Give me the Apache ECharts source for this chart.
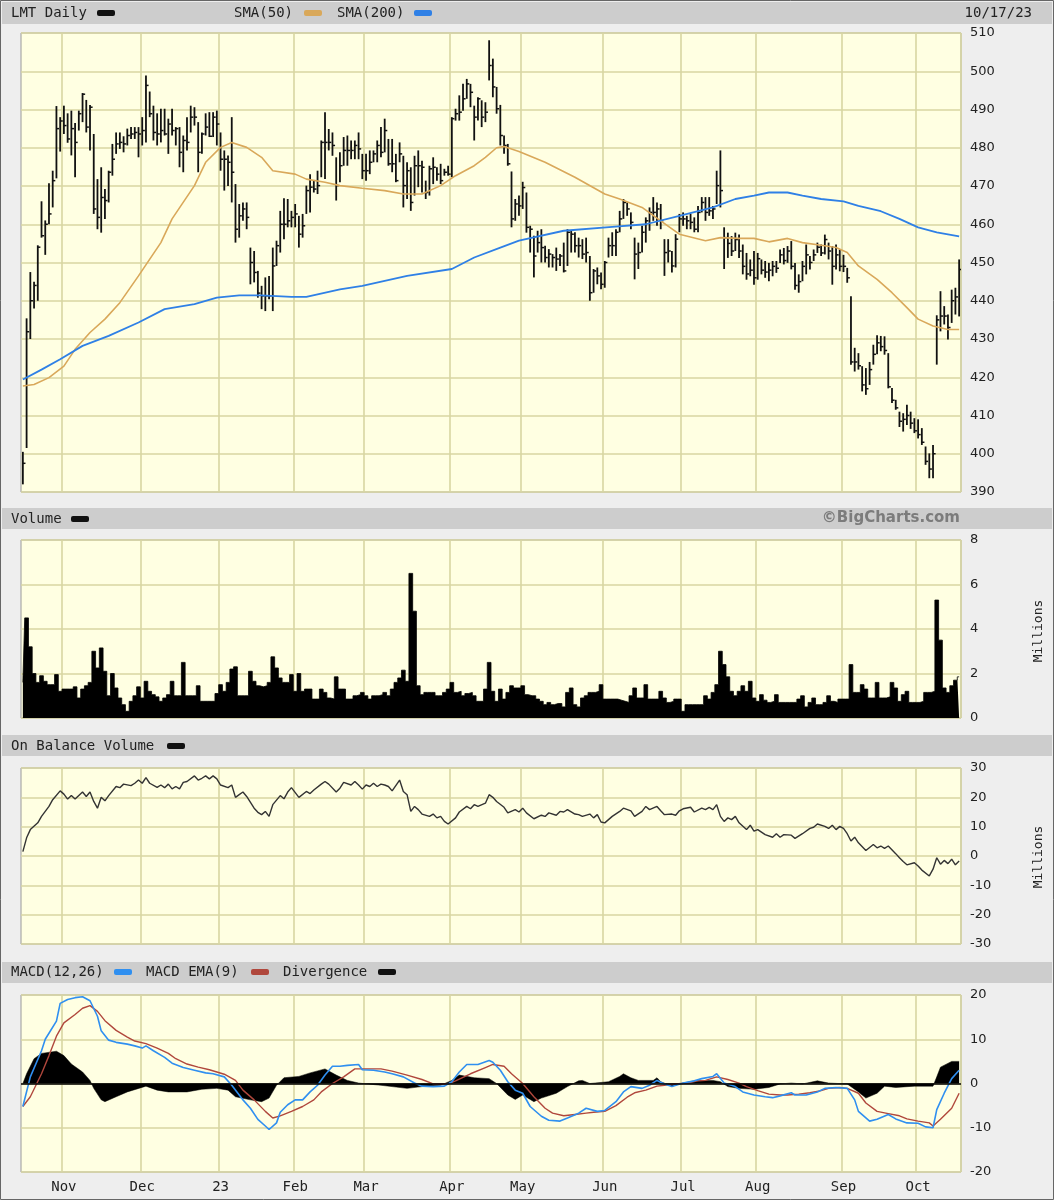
<!DOCTYPE html>
<html><head><meta charset="utf-8">
<script src="https://cdn.jsdelivr.net/npm/echarts/dist/echarts.min.js"></script>
<style>html,body{margin:0;padding:0;background:#eeeeee;}#c{width:1054px;height:1200px;}</style>
</head><body><div id="c"></div>
<script>
// ---------- calendar ----------
const startDate = '2022-10-17';
const endDate = '2023-10-17';
const holidays = ['2022-11-24','2022-12-26','2023-01-02','2023-01-16','2023-02-20','2023-04-07','2023-05-29','2023-06-19','2023-07-04','2023-09-04'];
const monthLabels = {'01':'23','02':'Feb','03':'Mar','04':'Apr','05':'May','06':'Jun','07':'Jul','08':'Aug','09':'Sep','10':'Oct','11':'Nov','12':'Dec'};
const priceTicks = [390, 510, 10];
const volumeTicks = [0, 8, 2];
const obvTicks = [-30, 30, 10];
const macdTicks = [-20, 20, 10];

// ---------- daily price bars ----------
const highs = [
400.5,435.4,447.5,445,454.5,466,461,470.7,474,490.9,
488,491,489,489.7,486.5,489.7,494.3,492.5,491.2,483.6,
471.8,474.9,469.2,474,481,484,484,483,485,485.4,
485.4,485.4,488,498.9,494.7,491,489,490.2,490.2,487.6,
490.2,485.4,485.4,483.2,488,491,490.6,486.7,484,489,
489.3,489.3,489.7,484,479.3,478,488,470.5,465.3,465.7,
465.7,453.9,453,447.8,443.9,446.1,446.5,453.9,455.7,463.5,
466.8,466.6,463.5,465.3,462.2,462.7,470.1,473.1,471.4,474,
481.9,489.3,484.9,484,477.5,478.8,482.8,483.2,481.9,481.9,
484,478.4,478.4,479.3,479.3,481.9,485.4,487.6,482.3,482.3,
478.4,481.4,477.9,476.2,474.9,477.9,479.3,476.6,471.4,475.3,
477.5,474.9,475.8,474.5,475.3,488,490.2,493.7,496.7,498,
496.7,491,493.2,492.4,491.9,508.1,503.3,495.9,491.2,483.2,
481,473.8,466.6,467.5,471.1,468.3,459.6,457,458.3,458.7,
454.4,453.5,452.2,453.9,452.2,455.2,458.7,458.3,457.9,456.5,
456.1,456.5,451.7,448.3,448.7,447.4,450.4,456.5,457.9,458.7,
463.5,466.6,465.7,463.1,456.5,455.2,459.6,461.8,464.4,467.1,
465.7,465.3,456.1,456.1,453,457.4,462.7,463.1,462.2,462.7,
461.8,464.8,467.1,467.1,467.1,464.8,474,479.3,459.2,457.8,
456.9,457.8,457.3,454.7,452.5,450.8,453,452.5,450.8,450.4,
449.9,450.4,450.4,453.4,453.8,454.3,455.6,449.9,446.9,450.4,
454.7,451.7,453.4,455.2,454.7,457.3,455.2,454.3,454.7,453.4,
452,448.6,441.2,427.7,426.3,422.9,422.4,424,428.5,431,
430.8,430.7,426.3,417.2,414.1,411,410.6,412.8,411,409.3,
409,406.7,401.9,400.1,402.3,436.2,442.5,438.6,436.4,442.9,
443.4,450.8];
const lows = [
392,401.5,430,438,440,456.5,452,460,464.4,472,
479,483.6,481.3,478,472.3,484.5,486.7,484,479.3,462.7,
458.7,457.8,461.4,465.7,472.7,478.4,479.7,478.8,480.6,482.3,
482.3,477.5,480.6,481.4,488,481.9,480.6,481.4,483.2,478.4,
483.2,480.6,474.9,473.6,479.3,484,485.8,473.6,478.4,483.2,
482.8,482.8,480.6,474,468.8,470,465.7,455.2,456.5,460.9,
458.7,444.3,444.8,440.8,437.8,437.3,440.4,437.3,449.1,452.6,
456.1,459.2,459.2,459.2,453.9,456.5,462.7,463.1,468.3,467.9,
472.3,471.8,479.3,477.9,466.2,471,475.3,475.3,477,477,
477,471.8,471.4,473.1,476.2,476.2,477.5,478.8,475.3,473.6,
471,476.2,464.4,466.6,463.5,467.5,469.7,468.3,466.6,467.5,
470.5,471.4,470.5,472.7,472.7,472.3,487.1,487.1,489.7,492.8,
490.6,481.9,487.1,485.4,486.7,497.6,493.2,488.9,480.6,478.4,
475.3,459.2,460.9,462.2,464,457.8,452.6,446.1,452.6,450,
450,448.7,448.7,447.8,449.1,447.4,449.1,452.6,452.6,451.3,
450.9,450,440,442.1,444.3,443,443.4,451.3,451.7,451.7,
457.9,461.4,462.2,458.7,445.6,448.3,452.6,455.2,458.3,460.9,
459.6,458.7,446.5,450,447.4,448.7,457.9,459.6,458.7,458.7,
457.9,457.9,463.1,460.9,462.2,461.4,465.3,464.4,448.3,451.2,
451.7,453,451.2,446.9,445.5,446.4,444.2,445.5,446.9,446,
445.1,446.4,447.3,449.9,449.5,449.9,448.2,442.9,442.1,445.1,
446.9,448.2,450.4,452.5,451.7,452.1,450.8,444.2,448.2,447.7,
447.5,444.7,423.3,421.5,422,416.3,415.4,418,423.3,426,
426.8,425.9,417.1,413.3,411.5,407,405.8,407.5,406.5,405.4,
404,402.3,397.1,393.6,393.6,423.3,432,433.8,429.9,434.2,
436.4,435.9];
const closes = [
397.5,431.9,440,444,454,457,460,462.7,471.4,485,
487,485.8,482.3,485,481.4,488.9,494,485.4,490.6,464,
461.8,467,466.2,473.6,477,481,481.4,481,483.2,483.6,
484,483.6,484.5,496.3,488.9,484,483.6,484.5,483.6,486.2,
484.5,485,478.8,481.9,481.4,488,488,478.8,483.6,485.4,
483,488,486.2,477,477,476.2,473.6,458.7,462.2,464,
461.8,450,447.4,442,441.3,441.3,441.3,449.1,454.4,460,
460,460.9,461.8,462.7,457.4,459.6,468.8,469.7,469.2,470.1,
481.4,481.4,481.4,480.6,470.1,475.3,479.3,479.3,479.3,480.6,
479.7,474,474,476.2,478.4,480.6,478.8,484.5,475.8,475.8,
471.4,478.4,470.1,474,465.7,475.3,475.3,474.9,468.3,474.5,
474.9,473.1,471.4,473.6,473.1,487.6,488.9,489.3,492.8,496.7,
494.5,488,492.8,488,489.3,501.5,495.9,490.2,483.2,480.6,
475.8,461.4,465.3,464.8,469.6,459.2,458.7,451.7,455.2,453.9,
451.3,452.2,451.3,450.9,451.7,447.8,457.9,457.4,454.4,454.4,
452.2,452.6,442.1,447.8,446.5,444.3,450,454.4,454.4,457.9,
461.4,465.7,464,460.5,452.2,452.6,457.9,460.9,463.1,463.1,
464,460.9,452.6,453,449.1,456.1,461.4,461.4,460.9,460.5,
458.7,463.1,465.7,463.1,463.5,464,470.1,468.8,456.5,455,
453,456,453,449,447,448,446,451,448,447.5,
448,449,448.5,452,450.5,453,449,444,445,449,
452,450,452,454,452.5,456,453,449,452,449,
449,446,424,424,423,418,417,422,426,429,
428,427,417.5,414,412,408.5,409,410,408,406,
405,403,398,396,400,435,436,436,433,440,
441,448.2];

// moving averages read at sample days: [dayIndex, value]
const sma50 = [[0,417.7],[3,418.1],[7,419.9],[11,422.9],[14,427.3],[18,431.7],[22,435.2],[26,439.5],[31,446.5],[37,455.2],[40,461.4],[46,470.1],[49,476.2],[53,480.1],[56,481.4],[60,480.1],[64,477.5],[67,474],[73,473.1],[76,471.8],[81,471],[85,470.1],[91,469.4],[97,468.8],[102,467.9],[107,467.9],[112,470.1],[116,472.7],[121,475.3],[124,477.5],[127,480],[129,480.3],[133,479],[140,476.2],[148,472.3],[156,467.9],[160,466.6],[166,464.4],[171,460.9],[176,457.4],[183,455.7],[187,456.5],[192,456.3],[196,456.3],[200,455.4],[205,456.3],[209,455.2],[214,454.5],[218,453.9],[221,452.6],[224,449.1],[229,445.6],[233,442.1],[237,438.2],[240,435.2],[244,433.4],[248,432.5],[251,432.5]];
const sma200 = [[0,419.4],[5,422],[10,424.7],[16,428.2],[23,430.8],[31,434.3],[38,437.8],[46,439.1],[52,440.8],[58,441.4],[64,441.4],[72,441],[76,441],[85,443],[91,443.9],[103,446.5],[115,448.3],[121,451.3],[128,453.9],[133,455.7],[145,458.3],[158,459.3],[167,460],[176,462.2],[185,464.4],[191,466.6],[196,467.5],[200,468.3],[205,468.3],[209,467.5],[214,466.6],[220,466],[224,464.8],[230,463.4],[235,461.4],[240,459.2],[245,457.9],[251,456.8]];

// daily volume, millions
const volumes = [
1.6,4.5,3.2,2.0,1.6,1.9,1.65,1.5,1.5,1.95,
1.2,1.3,1.3,1.3,1.4,0.9,1.3,1.45,1.6,3.0,
2.25,3.15,2.1,1.0,2.0,1.35,0.9,0.6,0.3,0.75,
1.0,1.4,0.9,1.65,1.2,1.05,0.95,0.75,0.9,1.05,
1.65,1.0,1.0,2.5,1.0,1.0,1.0,1.45,0.75,0.75,
0.75,0.75,1.1,1.5,1.2,1.6,2.2,2.3,1.0,1.0,
1.0,2.1,1.65,1.45,1.4,1.45,1.6,2.75,2.25,1.8,
1.6,1.6,1.95,1.2,2.0,1.2,1.3,1.3,0.85,0.85,
1.3,1.15,0.9,0.85,1.85,1.3,1.3,0.85,0.85,1.0,
1.05,1.15,1.0,0.85,1.0,1.0,1.05,1.15,1.0,1.3,
1.6,1.8,2.15,1.65,6.5,4.8,1.45,1.05,1.15,1.15,
1.15,1.0,1.0,1.15,1.3,1.6,1.15,1.2,1.0,1.1,
1.15,1.0,0.75,0.75,1.3,2.5,1.2,0.75,1.3,0.85,
1.15,1.45,1.35,1.35,1.45,1.05,1.0,1.0,0.85,0.75,
0.6,0.7,0.6,0.65,0.65,0.5,1.15,1.35,0.6,0.5,
0.9,1.0,1.15,1.15,1.2,1.5,0.85,0.85,0.85,0.85,
0.8,0.75,0.7,1.0,1.35,0.9,0.9,1.5,0.85,0.85,
0.85,1.2,0.9,0.7,0.75,0.85,0.85,0.3,0.6,0.6,
0.6,0.6,0.6,1.0,0.85,1.15,1.5,3.0,2.4,1.85,
1.2,1.0,1.2,1.45,1.2,1.65,0.9,0.75,1.05,0.8,
0.7,0.75,1.05,0.7,0.7,0.7,0.7,0.7,0.85,1.0,
0.5,0.7,0.9,0.6,0.6,0.7,1.0,0.75,0.7,0.85,
0.85,0.85,2.4,1.15,1.15,1.5,1.3,0.9,0.9,1.6,
0.9,0.9,0.95,1.6,1.35,0.75,1.05,1.2,0.7,0.7,
0.7,0.75,1.15,1.15,1.2,5.3,3.5,1.35,1.15,1.45,
1.7,1.85];

// on balance volume, millions: [dayIndex, value]
const obv = [[0,1.5],[1,6.2],[2,9],[4,11.3],[5,13.5],[7,16.9],[8,19.2],[10,22.2],[11,21.1],[12,19.4],[13,20.6],[14,19.4],[16,21.8],[17,20.3],[18,21.8],[19,18.6],[20,16.3],[21,20],[22,18.8],[23,20.6],[25,23.7],[26,23.3],[27,24.5],[29,24],[30,24.8],[31,25.9],[32,24.8],[33,26.7],[34,24.8],[36,23.4],[37,24.2],[38,23.3],[39,24.5],[40,22.9],[41,23.7],[42,22.9],[43,25.1],[44,25.4],[46,27.3],[47,25.9],[48,26.5],[49,27.3],[50,26.3],[51,27.3],[52,26.3],[53,24.2],[55,23.3],[56,24.2],[57,20],[58,20.9],[59,21.8],[60,20.3],[62,16.3],[63,14.9],[64,14.1],[65,15.2],[66,13.5],[67,17.5],[69,20.6],[70,19.5],[71,21.8],[72,23.3],[74,20],[76,22],[77,21.3],[78,22.5],[80,24.5],[81,25.4],[82,24.5],[84,21.8],[85,23.1],[86,25.1],[88,24.2],[89,25.4],[90,24.2],[91,22.8],[92,24.2],[93,23.7],[94,24.8],[95,23.7],[96,24.5],[97,24.2],[98,23.7],[99,22.2],[101,25.9],[102,22],[103,20.9],[104,15.2],[105,16.9],[106,15.8],[107,14.3],[109,13.5],[110,14.3],[111,13],[112,13.5],[113,11.8],[114,10.9],[116,13],[117,15],[119,16.9],[120,16.1],[121,17.5],[122,16.9],[124,18],[125,20.9],[126,20],[127,18.6],[129,16.6],[130,14.7],[132,15.8],[133,15],[134,16.3],[135,14.7],[137,12.7],[139,13.9],[140,13.5],[141,14.7],[143,13.9],[144,15.2],[145,15],[146,15.8],[148,14.3],[149,14.1],[150,13.5],[152,14.3],[153,13],[154,14.1],[155,11.6],[156,11.3],[158,13.5],[160,15.2],[161,16.3],[163,15.4],[164,13.5],[166,15.2],[167,16.9],[168,15.8],[170,16.9],[171,15.4],[172,14.1],[174,14.3],[175,13.9],[176,15.4],[177,16.1],[179,16.6],[180,15],[182,16.3],[183,15.8],[184,16.6],[185,15.8],[186,17.5],[187,13.5],[188,11.8],[189,13],[190,12.4],[191,13.5],[192,11.3],[194,9],[195,10.5],[196,8.5],[197,9],[199,7.3],[201,6.4],[202,7.6],[203,6.4],[204,7.3],[206,7.1],[207,6],[209,7.6],[211,9.4],[212,9.8],[213,10.9],[215,10.1],[216,9.4],[217,10.5],[218,9],[219,10.1],[220,9.4],[221,7.6],[222,5.1],[223,6.4],[224,4.5],[226,1.9],[228,3.9],[229,2.8],[230,3.4],[231,2.6],[232,3.4],[234,0.8],[235,-0.6],[236,-1.9],[237,-3],[239,-2.3],[240,-3.4],[241,-4.8],[243,-6.8],[244,-4.5],[245,-0.6],[246,-2.8],[247,-1.5],[248,-2.6],[249,-1.1],[250,-3],[251,-1.7]];

// MACD panel: [dayIndex, value]
const macdLine = [[0,-5.2],[2,1.5],[5,7.4],[6,10],[9,14.1],[10,18.1],[12,19],[14,19.4],[16,19.6],[18,18.7],[20,15.2],[21,11.9],[23,9.8],[25,9.3],[28,8.9],[30,8.5],[32,8],[33,8.5],[35,7.4],[38,5.9],[40,4.6],[43,3.6],[46,3],[49,2.4],[51,2.2],[54,1.5],[56,-0.4],[58,-2.6],[59,-3.7],[61,-5.6],[63,-8.1],[65,-9.6],[66,-10.4],[68,-8.9],[69,-6.5],[71,-4.8],[73,-3.7],[75,-3.7],[77,-1.9],[79,-0.4],[81,1.9],[83,3.9],[85,3.9],[87,4.1],[90,4.3],[91,3.1],[94,3],[97,2.6],[99,2.2],[102,1.5],[105,0.1],[107,-0.6],[110,-0.7],[113,-0.6],[115,0.4],[117,2.6],[119,4.3],[122,4.3],[125,5.2],[126,4.8],[128,3],[130,0.4],[132,-1.5],[134,-2.2],[136,-5.2],[139,-7.4],[141,-8.3],[144,-8.5],[146,-7.8],[149,-6.7],[151,-5.6],[154,-6.3],[156,-6.1],[159,-4.1],[161,-1.9],[163,-0.7],[166,-1.1],[168,-0.4],[170,0.7],[172,-0.1],[174,-0.7],[177,0.1],[180,0.6],[182,1.1],[185,1.6],[186,2.2],[188,0.1],[191,-0.7],[193,-1.9],[196,-2.6],[199,-3],[201,-3.2],[203,-2.8],[206,-2.1],[207,-2.6],[210,-2.6],[213,-1.9],[215,-1.1],[218,-0.9],[221,-1.1],[223,-3.7],[224,-6.3],[227,-8.5],[229,-8.1],[232,-7],[234,-8],[237,-8.9],[240,-9],[242,-9.8],[244,-10],[245,-5.9],[247,-2.2],[249,1.1],[251,3]];
const macdSignal = [[0,-5.2],[2,-3],[5,2.2],[7,6.3],[9,10.7],[11,13.7],[14,15.6],[16,17],[18,17.6],[20,16.3],[22,14.2],[25,12],[28,10.5],[30,9.6],[33,9],[36,8],[39,6.8],[41,5.6],[44,4.4],[47,3.7],[50,3.1],[54,2.1],[57,0.7],[59,-1.5],[62,-3.7],[65,-6.3],[67,-7.8],[69,-7.3],[72,-6.3],[75,-5.2],[78,-3.7],[80,-1.9],[83,0],[86,1.5],[89,3.3],[92,3.3],[96,3.3],[99,2.8],[103,1.9],[107,0.9],[110,-0.1],[114,-0.1],[116,0.6],[120,2.2],[124,3.6],[126,4.3],[129,3.9],[131,2.2],[134,0],[137,-3],[140,-5.6],[142,-6.7],[145,-7.3],[148,-7],[151,-6.7],[153,-6.5],[156,-6.3],[159,-5],[162,-3.1],[164,-2.1],[167,-1.5],[170,-0.6],[172,-0.4],[175,-0.1],[178,0.1],[181,0.6],[183,0.7],[186,1.5],[189,0.9],[192,0.1],[194,-0.7],[197,-1.6],[200,-2.4],[203,-2.6],[205,-2.6],[208,-2.4],[211,-2.1],[214,-1.6],[216,-1.1],[219,-0.9],[221,-1.1],[224,-2.2],[226,-4.4],[229,-6.3],[232,-6.8],[235,-7.3],[237,-8],[240,-8.5],[243,-8.9],[244,-9.6],[246,-8.1],[249,-5.6],[251,-2.2]];
const macdDiv = [[0,0],[1,2.2],[3,5.6],[5,6.8],[9,7.3],[11,6.3],[13,4.4],[16,2.6],[18,0.7],[19,-1.1],[21,-3.7],[22,-4.1],[25,-3],[28,-1.9],[33,-0.6],[36,-1.5],[39,-1.9],[44,-1.9],[48,-1.3],[52,-1.1],[55,-1.5],[57,-3],[61,-3.7],[64,-4.1],[66,-3.3],[68,-0.4],[70,1.3],[74,1.6],[77,2.4],[81,3.3],[84,1.9],[87,0.7],[90,0.1],[96,-0.4],[103,-1.1],[107,-0.7],[112,-0.4],[115,0.7],[117,1.9],[121,1.3],[125,1.1],[127,0],[130,-2.6],[132,-3.6],[134,-2.6],[137,-4.1],[139,-3.3],[143,-2.2],[146,-0.7],[149,0.6],[150,0.7],[152,0],[157,0.4],[160,1.6],[161,2.2],[163,1.3],[165,0.7],[169,0.7],[170,1.3],[171,0.4],[174,-0.6],[177,0.1],[180,0.6],[185,0.7],[187,0.4],[189,-0.7],[192,-1.1],[196,-1.3],[200,-0.9],[203,-0.1],[206,0.1],[209,-0.1],[213,0.6],[216,0.1],[221,-0.1],[224,-1.9],[226,-3.3],[229,-2.2],[231,-0.6],[234,-0.9],[239,-0.6],[244,-0.6],[245,1.5],[246,3.7],[249,5],[251,5]];

// ---------- build ----------
const dates = [];
for (let d = new Date(startDate + 'T12:00:00Z'); d <= new Date(endDate + 'T12:00:00Z'); d.setUTCDate(d.getUTCDate() + 1)) {
  const wd = d.getUTCDay(); const s = d.toISOString().slice(0, 10);
  if (wd === 0 || wd === 6 || holidays.includes(s)) continue;
  dates.push(s);
}
const isMonthStart = i => i > 0 && dates[i].slice(5, 7) !== dates[i - 1].slice(5, 7);
const barData = dates.map((d, i) => [i, highs[i], lows[i], closes[i]]);

const GRID_C = '#d8d6a2';
const mono = 'DejaVu Sans Mono';
const grids = [
  {left: 21, top: 33, width: 940, height: 459},
  {left: 21, top: 540, width: 940, height: 178},
  {left: 21, top: 768, width: 940, height: 176},
  {left: 21, top: 995, width: 940, height: 177}
].map(g => Object.assign(g, {show: true, backgroundColor: '#ffffe2', borderColor: '#9a9a9a', borderWidth: 1}));

function xAx(gi, labels) {
  return {
    type: 'category', gridIndex: gi, data: dates, boundaryGap: true,
    axisLine: {show: false}, axisTick: {show: false},
    splitLine: {show: true, interval: (i) => isMonthStart(i), lineStyle: {color: GRID_C, width: 1.6}},
    axisLabel: labels ? {show: true, interval: (i) => isMonthStart(i), formatter: v => monthLabels[v.slice(5, 7)],
      fontFamily: mono, fontSize: 14, color: '#222', margin: 8} : {show: false}
  };
}
function yAx(gi, t) {
  return {
    type: 'value', gridIndex: gi, position: 'right', min: t[0], max: t[1], interval: t[2],
    axisLine: {show: false}, axisTick: {show: false},
    splitLine: {show: true, lineStyle: {color: GRID_C, width: 1.6}},
    axisLabel: {color: '#222', fontSize: 13, fontFamily: 'DejaVu Sans', margin: 9}
  };
}

function txt(x, y, s, extra) {
  return Object.assign({type: 'text', x, y, style: Object.assign({text: s, fill: '#222', font: '14px "DejaVu Sans Mono"', textVerticalAlign: 'middle'}, extra || {})});
}
function sw(x, y, color) {
  return {type: 'rect', shape: {x, y: y - 3, width: 18, height: 6, r: 2}, style: {fill: color}};
}
const headerRects = [[2, 22], [508, 21], [735, 21], [962, 21]].map(h => ({type: 'rect', shape: {x: 2, y: h[0], width: 1050, height: h[1]}, style: {fill: '#cdcdcd'}}));

const graphics = [
  {type: 'rect', shape: {x: 0.5, y: 0.5, width: 1053, height: 1199}, style: {fill: 'none', stroke: '#666', lineWidth: 1}},
  ...headerRects,
  txt(11, 13, 'LMT Daily'), sw(97, 13, '#111'),
  txt(234, 13, 'SMA(50)'), sw(304, 13, '#d9a85a'),
  txt(337, 13, 'SMA(200)'), sw(414, 13, '#2f80e6'),
  txt(1032, 13, '10/17/23', {textAlign: 'right'}),
  txt(11, 519, 'Volume'), sw(71, 519, '#111'),
  txt(960, 518, '©BigCharts.com', {textAlign: 'right', fill: '#7c7c7c', font: 'bold 15px "DejaVu Sans"'}),
  txt(11, 746, 'On Balance Volume'), sw(167, 746, '#111'),
  txt(11, 972, 'MACD(12,26)'), sw(114, 972, '#2f8ff0'),
  txt(146, 972, 'MACD EMA(9)'), sw(251, 972, '#b0473c'),
  txt(283, 972, 'Divergence'), sw(378, 972, '#111'),
  {type: 'text', x: 1039, y: 631, rotation: Math.PI / 2, style: {text: 'Millions', fill: '#222', font: '13px "DejaVu Sans Mono"', textAlign: 'center', textVerticalAlign: 'middle'}},
  {type: 'text', x: 1039, y: 857, rotation: Math.PI / 2, style: {text: 'Millions', fill: '#222', font: '13px "DejaVu Sans Mono"', textAlign: 'center', textVerticalAlign: 'middle'}}
];

const chart = echarts.init(document.getElementById('c'));
chart.setOption({
  animation: false,
  backgroundColor: '#eeeeee',
  grid: grids,
  xAxis: [xAx(0, false), xAx(1, false), xAx(2, false), xAx(3, true)],
  yAxis: [yAx(0, priceTicks), yAx(1, volumeTicks), yAx(2, obvTicks), yAx(3, macdTicks)],
  graphic: graphics,
  series: [
    {
      type: 'custom', xAxisIndex: 0, yAxisIndex: 0, data: barData, clip: true,
      encode: {x: 0, y: [1, 2, 3]},
      renderItem: (params, api) => {
        const hi = api.coord([api.value(0), api.value(1)]);
        const lo = api.coord([api.value(0), api.value(2)]);
        const cl = api.coord([api.value(0), api.value(3)]);
        return {type: 'group', children: [
          {type: 'line', shape: {x1: hi[0], y1: hi[1], x2: lo[0], y2: lo[1]}, style: {stroke: '#111', lineWidth: 1.8}},
          {type: 'line', shape: {x1: cl[0], y1: cl[1], x2: cl[0] + 2.6, y2: cl[1]}, style: {stroke: '#111', lineWidth: 1.5}}
        ]};
      }
    },
    {type: 'line', xAxisIndex: 0, yAxisIndex: 0, data: sma50, showSymbol: false, symbol: 'none', lineStyle: {color: '#d9a85a', width: 1.6}, z: 3},
    {type: 'line', xAxisIndex: 0, yAxisIndex: 0, data: sma200, showSymbol: false, symbol: 'none', lineStyle: {color: '#2f80e6', width: 1.8}, z: 3},
    {type: 'line', xAxisIndex: 1, yAxisIndex: 1, data: volumes, step: 'middle', symbol: 'none', lineStyle: {color: '#000', width: 0.8}, areaStyle: {color: '#000', opacity: 1}},
    {type: 'line', xAxisIndex: 2, yAxisIndex: 2, data: obv, symbol: 'none', lineStyle: {color: '#333', width: 1.4}},
    {type: 'line', xAxisIndex: 3, yAxisIndex: 3, data: macdDiv, symbol: 'none', lineStyle: {color: '#000', width: 0.5}, areaStyle: {color: '#000', opacity: 1},
      markLine: {silent: true, symbol: 'none', label: {show: false}, lineStyle: {color: '#000', width: 1.5, type: 'solid'}, data: [{yAxis: 0}]}},
    {type: 'line', xAxisIndex: 3, yAxisIndex: 3, data: macdSignal, symbol: 'none', lineStyle: {color: '#b0473c', width: 1.4}},
    {type: 'line', xAxisIndex: 3, yAxisIndex: 3, data: macdLine, symbol: 'none', lineStyle: {color: '#2f8ff0', width: 1.6}}
  ]
});
</script></body></html>
